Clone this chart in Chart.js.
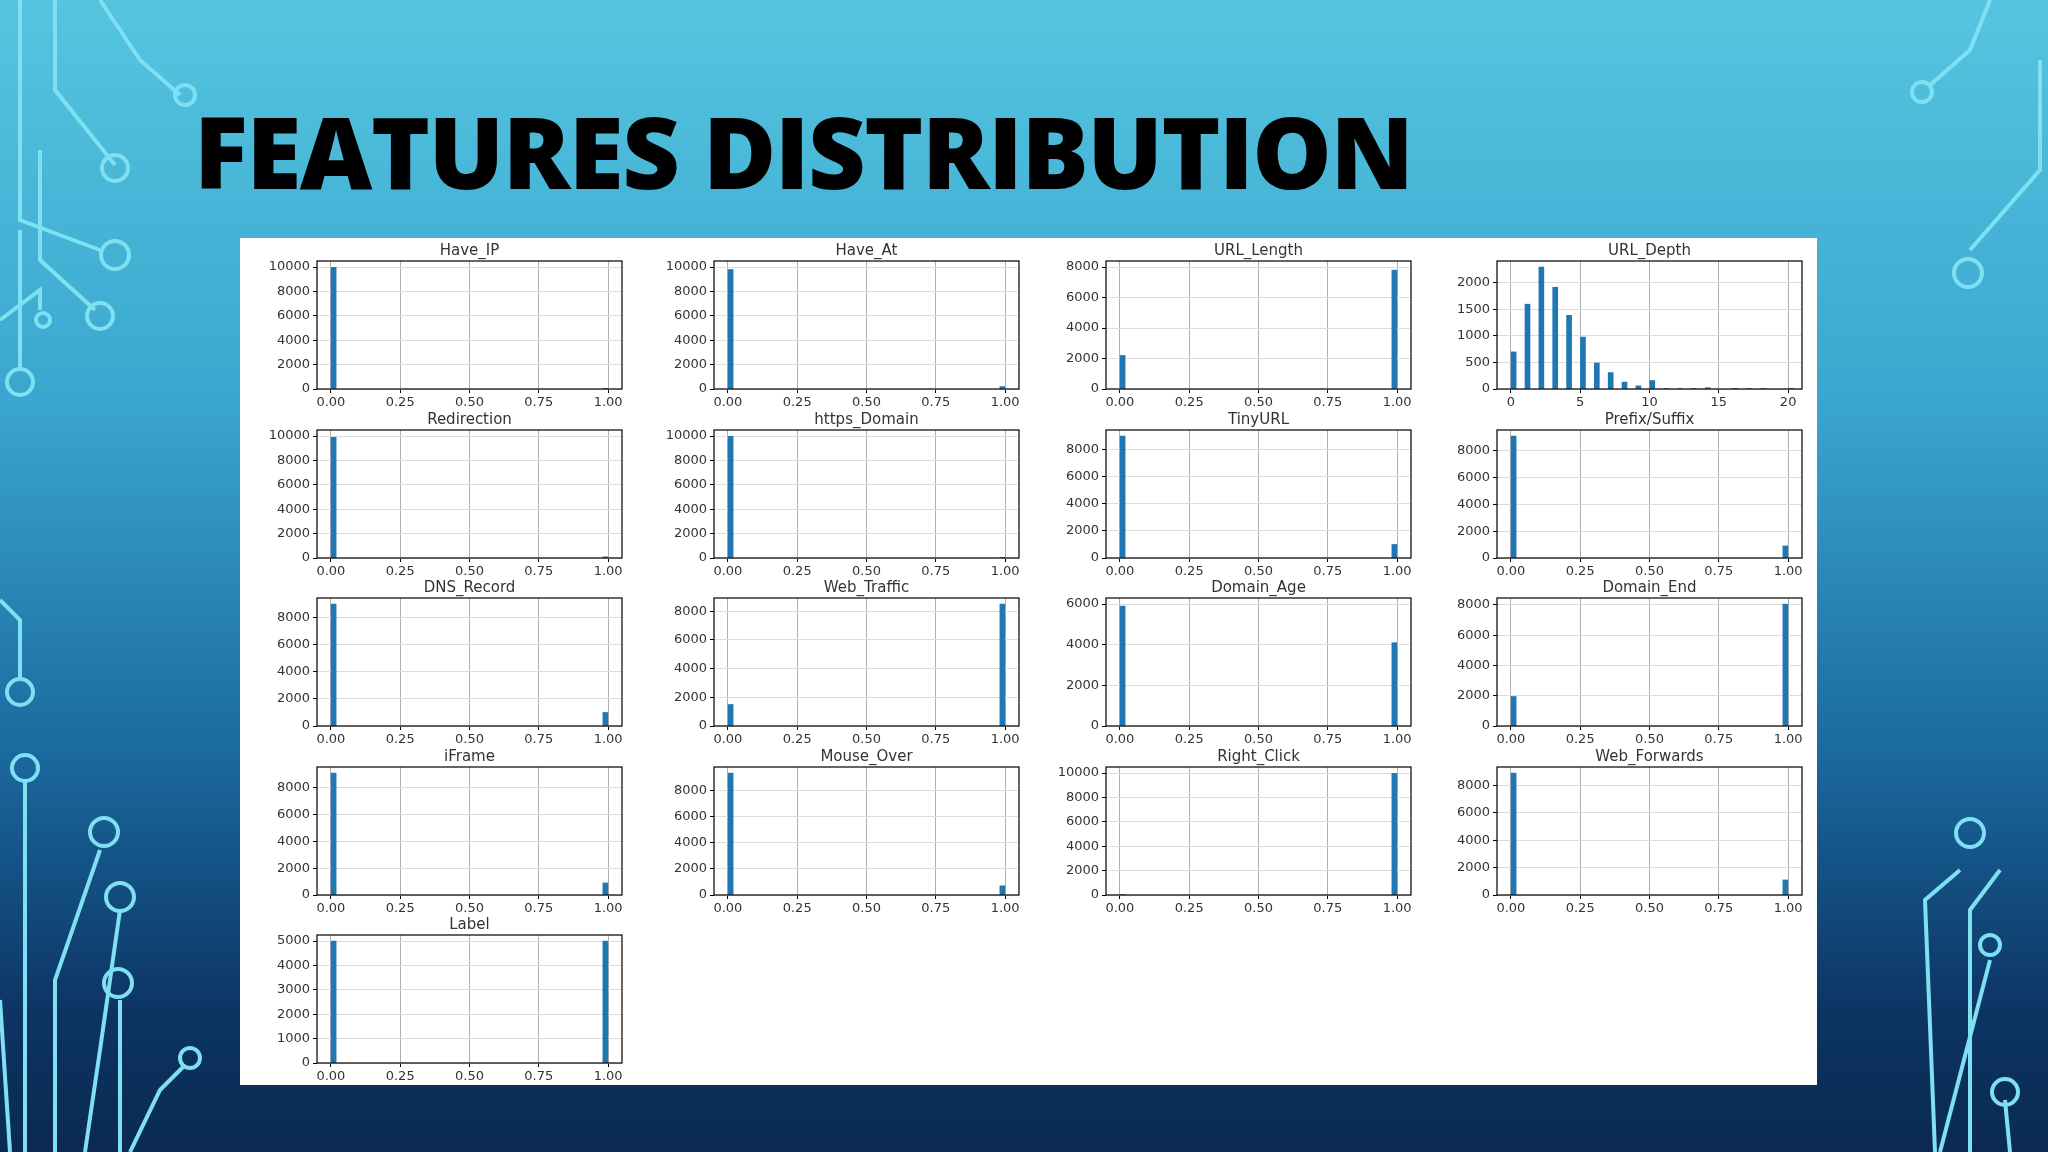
<!DOCTYPE html>
<html><head><meta charset="utf-8">
<script src="https://cdn.jsdelivr.net/npm/chart.js@4"></script>
<style>
html,body{margin:0;padding:0;width:2048px;height:1152px;overflow:hidden;}
body{background:linear-gradient(180deg,#55c5df 0%,#3aa6cf 35%,#1b6aa0 65%,#0c3463 88%,#0a2a52 100%);position:relative;font-family:"DejaVu Sans";}
#deco{position:absolute;left:0;top:0}
h1{position:absolute;left:194px;top:100px;margin:0;font-family:"Open Sans";font-weight:800;font-size:100px;color:#000;letter-spacing:-1.5px;line-height:1}
#panel{position:absolute;left:240px;top:238px;width:1577px;height:847px;background:#fff}
canvas.c{position:absolute}
</style></head><body>
<svg id="deco" width="2048" height="1152" fill="none" stroke="#7fe0f2" stroke-width="4">
<path d="M100 0 L140 60 L180 95"/><circle cx="185" cy="95" r="10"/>
<path d="M55 0 L55 90 L115 165"/><circle cx="115" cy="168" r="13"/>
<path d="M20 0 L20 220 L100 250"/><circle cx="115" cy="255" r="14"/>
<path d="M40 150 L40 260 L95 310"/><circle cx="100" cy="316" r="13"/>
<path d="M20 230 L20 370"/><circle cx="20" cy="382" r="13"/>
<path d="M0 320 L40 290 L40 310"/><circle cx="43" cy="320" r="7"/>
<path d="M0 600 L20 620 L20 680"/><circle cx="20" cy="692" r="13"/>
<path d="M25 780 L25 1152"/><circle cx="25" cy="768" r="13"/>
<path d="M55 1152 L55 980 L100 850"/><circle cx="104" cy="832" r="14"/>
<path d="M85 1152 L100 1050 L120 910"/><circle cx="120" cy="897" r="14"/>
<path d="M120 1152 L120 1000"/><circle cx="118" cy="983" r="14"/>
<path d="M130 1152 L160 1090 L185 1065"/><circle cx="190" cy="1058" r="10"/>
<path d="M0 1000 L10 1152"/>
<path d="M1990 0 L1970 50 L1930 85"/><circle cx="1922" cy="92" r="10"/>
<path d="M2040 60 L2040 170 L1970 250"/><circle cx="1968" cy="273" r="14"/>
<path d="M1970 1152 L1970 910 L2000 870"/><circle cx="1970" cy="833" r="14"/>
<path d="M1935 1152 L1925 900 L1960 870"/>
<path d="M1940 1152 L1990 960"/><circle cx="1990" cy="945" r="10"/>
<path d="M2010 1152 L2005 1100"/><circle cx="2005" cy="1092" r="13"/>
</svg>
<h1>FEATURES DISTRIBUTION</h1>
<div id="panel"></div>
<script>
const titles=["Have_IP","Have_At","URL_Length","URL_Depth","Redirection","https_Domain","TinyURL","Prefix/Suffix","DNS_Record","Web_Traffic","Domain_Age","Domain_End","iFrame","Mouse_Over","Right_Click","Web_Forwards","Label"];
// binary features: counts at value 0 and value 1
const zeroCounts=[9980,9800,2200,null,9900,9980,9000,9100,9000,1500,5900,1950,9100,9300,20,8900,5000];
const oneCounts =[20,200,7800,null,100,20,1000,900,1000,8500,4100,8050,900,700,9980,1100,5000];
const yMax=[10000,10000,8000,2300,10000,10000,9000,9100,9000,8500,6000,8050,9100,9300,10000,8900,5000];
const yStep=[2000,2000,2000,500,2000,2000,2000,2000,2000,2000,2000,2000,2000,2000,2000,2000,1000];
const depthValues=[0,1,2,3,4,5,6,7,8,9,10,11,12,13,14,16,17,18,20];
const depthCounts=[700,1600,2300,1920,1390,980,490,310,130,60,160,10,10,10,25,5,10,10,5];
const binaryTicks=[0,0.25,0.5,0.75,1];
const depthTicks=[0,5,10,15,20];

const colLeft=[317,714,1106,1497], rowTop=[261,430,598,767,935];
const AW=305,AH=128,PL=78,PT=22,PB=24,PR=12;

const framePlugin={id:'frame',afterDraw(c){const a=c.chartArea,x=c.ctx;x.save();x.strokeStyle='#000';x.lineWidth=1.2;x.strokeRect(a.left,a.top,a.right-a.left,a.bottom-a.top);
x.fillStyle='#333';x.font='15px "DejaVu Sans"';x.textAlign='center';x.textBaseline='bottom';x.fillText(c.options.plugins.ptitle,(a.left+a.right)/2,a.top-2);x.restore();}};

titles.forEach((t,i)=>{
  const cv=document.createElement('canvas');cv.className='c';
  const r=Math.floor(i/4),col=i%4;
  const L=colLeft[col]-PL,T=rowTop[r]-PT,W=AW+PL+PR,H=AH+PT+PB;
  cv.style.left=L+'px';cv.style.top=T+'px';cv.style.width=W+'px';cv.style.height=H+'px';
  document.body.appendChild(cv);
  const isDepth=t==='URL_Depth';
  const data=isDepth?depthValues.map((v,k)=>({x:v+0.2,y:depthCounts[k]})):[{x:0.01,y:zeroCounts[i]},{x:0.99,y:oneCounts[i]}];
  const xmin=isDepth?-1:-0.05,xmax=isDepth?21:1.05;
  const ticks=isDepth?depthTicks:binaryTicks;
  const step=yStep[i];
  new Chart(cv,{type:'bar',data:{datasets:[{data,backgroundColor:'#1f77b4',barThickness:5,borderWidth:0}]},
    options:{responsive:false,devicePixelRatio:1,animation:false,layout:{padding:{top:PT,right:PR,left:0,bottom:0}},
      plugins:{legend:{display:false},tooltip:{enabled:false},ptitle:t},
      scales:{
        x:{type:'linear',min:xmin,max:xmax,offset:false,
          afterBuildTicks(s){s.ticks=ticks.map(v=>({value:v}));},
          afterFit(s){s.height=PB;},
          ticks:{autoSkip:false,maxRotation:0,color:'#333',font:{size:13,family:'DejaVu Sans'},padding:2,callback:v=>isDepth?String(v):v.toFixed(2)},
          grid:{offset:false,color:'#b0b0b0',lineWidth:1,tickLength:4,tickColor:'#000'},border:{display:false}},
        y:{min:0,max:yMax[i]*1.05,
          afterBuildTicks(s){const a=[];for(let v=0;v<=s.max;v+=step)a.push({value:v});s.ticks=a;},
          afterFit(s){s.width=PL;},
          ticks:{color:'#333',font:{size:13,family:'DejaVu Sans'},padding:3,callback:v=>String(v)},
          grid:{color:'#dcdcdc',lineWidth:1,tickLength:4,tickColor:'#000'},border:{display:false}}
      }},plugins:[framePlugin]});
});
</script>
</body></html>
